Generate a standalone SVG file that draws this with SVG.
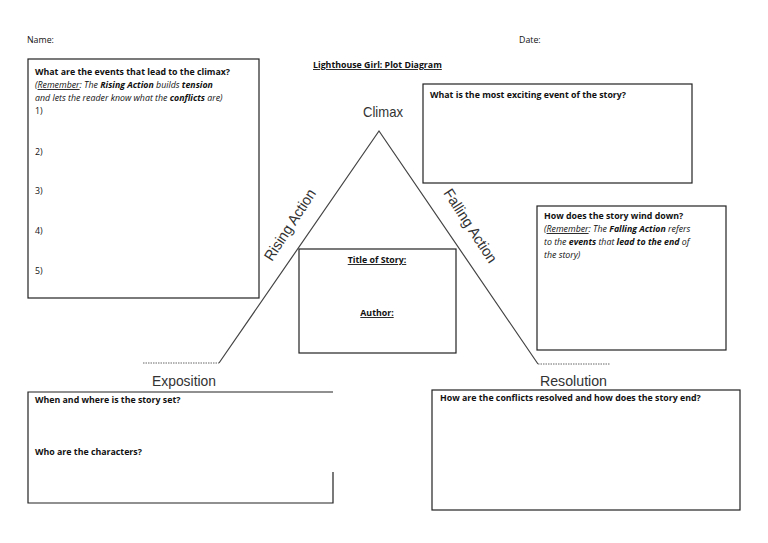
<svg xmlns="http://www.w3.org/2000/svg" width="768" height="543" viewBox="0 0 768 543">
<style>
.b{fill:none;stroke:#222;stroke-width:1.2}
.t{font-family:"Open Sans","Liberation Sans",sans-serif;font-size:8.8px;fill:#111}
.bd{font-weight:bold}
.i{font-style:italic}
.u{text-decoration:underline}
.lab{font-family:"Liberation Sans",sans-serif;font-size:15px;fill:#333}
.ln{stroke:#444;stroke-width:1.2;fill:none}
.dot{stroke:#666;stroke-width:1;stroke-dasharray:1.5 1;fill:none}
</style>
<rect width="768" height="543" fill="#fff"/>
<text class="t" x="27" y="43">Name:</text>
<text class="t" x="519" y="43">Date:</text>
<text class="t bd u" x="313" y="68">Lighthouse Girl: Plot Diagram</text>
<g id="connectors">
<path class="ln" d="M219,363 L379,131 L538,364"/>
<path class="dot" d="M143,363 H219"/>
<path class="dot" d="M538,364 H610"/>
</g>
<g id="labels">
<text class="lab" x="363" y="117" textLength="40" lengthAdjust="spacingAndGlyphs">Climax</text>
<text class="lab" x="152" y="386" textLength="64" lengthAdjust="spacingAndGlyphs">Exposition</text>
<text class="lab" x="540" y="386" textLength="67" lengthAdjust="spacingAndGlyphs">Resolution</text>
<text class="lab" transform="translate(272,262) rotate(-57)" textLength="82" lengthAdjust="spacingAndGlyphs">Rising Action</text>
<text class="lab" transform="translate(443,193) rotate(57)" textLength="85" lengthAdjust="spacingAndGlyphs">Falling Action</text>
</g>
<g id="rising">
<rect class="b" x="28" y="59" width="231" height="239"/>
<text class="t bd" x="35" y="75">What are the events that lead to the climax?</text>
<text class="t i" x="35" y="88">(<tspan class="u">Remember</tspan>: The <tspan class="bd">Rising Action</tspan> builds <tspan class="bd">tension</tspan></text>
<text class="t i" x="35" y="101">and lets the reader know what the <tspan class="bd">conflicts</tspan> are)</text>
<text class="t" x="35" y="114">1)</text>
<text class="t" x="35" y="155">2)</text>
<text class="t" x="35" y="194">3)</text>
<text class="t" x="35" y="234">4)</text>
<text class="t" x="35" y="274">5)</text>
</g>
<g id="climax">
<rect class="b" x="423" y="84" width="269" height="99"/>
<text class="t bd" x="430" y="98">What is the most exciting event of the story?</text>
</g>
<g id="falling">
<rect class="b" x="537" y="206" width="189" height="144"/>
<text class="t bd" x="544" y="219">How does the story wind down?</text>
<text class="t i" x="544" y="232">(<tspan class="u">Remember</tspan>: The <tspan class="bd">Falling Action</tspan> refers</text>
<text class="t i" x="544" y="245">to the <tspan class="bd">events</tspan> that <tspan class="bd">lead to the end</tspan> of</text>
<text class="t i" x="544" y="258">the story)</text>
</g>
<g id="title">
<rect class="b" x="299" y="249" width="157" height="104"/>
<text class="t bd u" x="377" y="263" text-anchor="middle">Title of Story:</text>
<text class="t bd u" x="377" y="316" text-anchor="middle">Author:</text>
</g>
<g id="exposition">
<path class="b" d="M333,392 H28 V503 H333 V472"/>
<text class="t bd" x="35" y="403">When and where is the story set?</text>
<text class="t bd" x="35" y="455">Who are the characters?</text>
</g>
<g id="resolution">
<rect class="b" x="432" y="390" width="308" height="120"/>
<text class="t bd" x="440" y="401">How are the conflicts resolved and how does the story end?</text>
</g>
</svg>
